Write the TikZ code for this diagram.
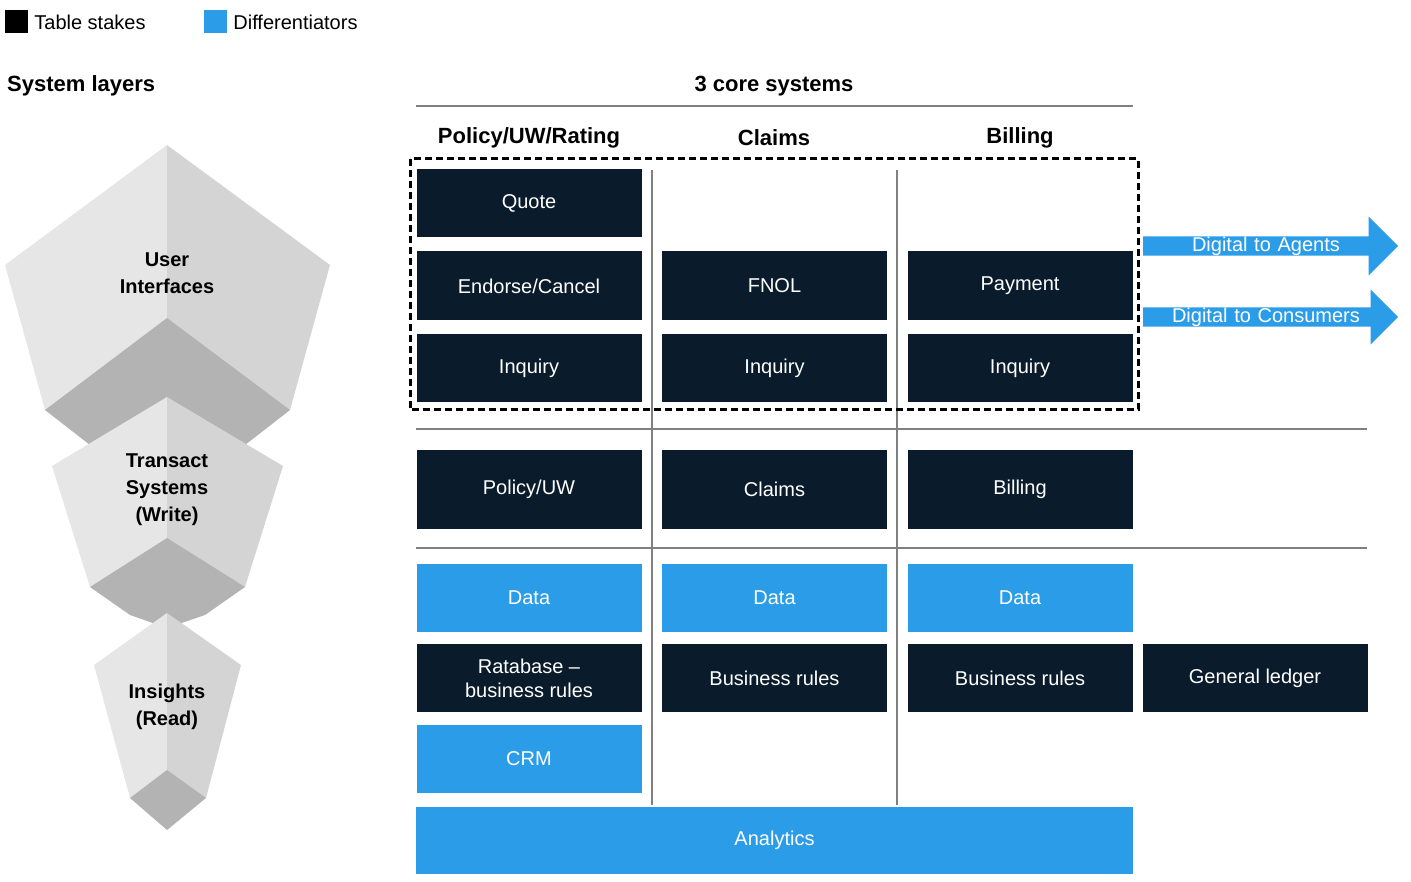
\documentclass[tikz,border=0pt]{standalone}
\usepackage{fontspec}
\setmainfont{Liberation Sans}
\usetikzlibrary{positioning,shapes.arrows}
\definecolor{navy}{HTML}{0A1C2C}
\definecolor{skyb}{HTML}{2B9DE8}
\definecolor{lgrey}{HTML}{E6E6E6}
\definecolor{mgrey}{HTML}{D4D4D4}
\definecolor{dgrey}{HTML}{B3B3B3}

\begin{document}
\begin{tikzpicture}[x=1pt,y=-1pt]
\tikzstyle{stake}=[rectangle, fill=navy, text=white, minimum width=225pt, minimum height=68pt, inner sep=0pt, align=center, font=\fontsize{20}{24}\selectfont]
\tikzstyle{diff}=[stake, fill=skyb]
\tikzstyle{head}=[font=\bfseries\fontsize{22}{26}\selectfont, inner sep=0pt]
\tikzstyle{layer}=[font=\bfseries\fontsize{20}{27}\selectfont, align=center, inner sep=0pt]
\tikzstyle{rule}=[draw=gray, line width=1.2pt]
\tikzstyle{digital}=[fill=skyb, text=white, font=\fontsize{20}{24}\selectfont]
\useasboundingbox (0,0) rectangle (1411,882);
	% legend
	\node[fill=black, minimum size=23pt, inner sep=0pt] (ts) at (16.5,22) {};
	\node[right=6pt of ts, font=\fontsize{20}{24}\selectfont, inner sep=0pt] {Table stakes};
	\node[fill=skyb, minimum size=23pt, inner sep=0pt] (df) at (215.5,22) {};
	\node[right=6pt of df, font=\fontsize{20}{24}\selectfont, inner sep=0pt] {Differentiators};
	% layers
	\node[head, anchor=west] (sl) at (7,86) {System layers};
	\fill[lgrey] (167,145) -- (5,265) -- (45,410) -- (167,410) -- cycle;
	\fill[mgrey] (167,145) -- (330,265) -- (290,410) -- (167,410) -- cycle;
	\fill[dgrey] (45,410) -- (167,318) -- (290,410) -- (245,445) -- (167,470) -- (90,445) -- cycle;
	\fill[lgrey] (167,397) -- (52,466) -- (90,587) -- (167,587) -- cycle;
	\fill[mgrey] (167,397) -- (283,466) -- (245,587) -- (167,587) -- cycle;
	\fill[dgrey] (90,587) -- (167,538) -- (245,587) -- (205,615) -- (167,628) -- (130,615) -- cycle;
	\fill[lgrey] (167,613) -- (94,665) -- (130,798) -- (167,798) -- cycle;
	\fill[mgrey] (167,613) -- (241,665) -- (206,798) -- (167,798) -- cycle;
	\fill[dgrey] (130,798) -- (167,770) -- (206,798) -- (167,830) -- cycle;
	\node[layer] (ui) at (167,273) {User\\Interfaces};
	\node[layer] (tr) at (167,490) {Transact\\Systems\\(Write)};
	\node[layer] (in) at (167,707) {Insights\\(Read)};
	% headers and rules
	\node[head] (core) at (774,86) {3 core systems};
	\draw[rule] (416,106) -- (1133,106);
	\node[head] (hp) at (529,138) {Policy/UW/Rating};
	\node[head] (hc) at (774,138) {Claims};
	\node[head] (hb) at (1020,138) {Billing};
	\draw[rule] (652,170) -- (652,805);
	\draw[rule] (897,170) -- (897,805);
	\draw[rule] (416,429) -- (1367,429);
	\draw[rule] (416,548) -- (1367,548);
	% boxes
	\node[stake] (quote) at (529,203) {Quote};
	\node[stake, minimum height=69pt] (endorse) at (529,286) {Endorse/Cancel};
	\node[stake, minimum height=69pt] (fnol) at (774.5,286) {FNOL};
	\node[stake, minimum height=69pt] (pay) at (1020,286) {Payment};
	\node[stake] (inq1) at (529,368) {Inquiry};
	\node[stake] (inq2) at (774.5,368) {Inquiry};
	\node[stake] (inq3) at (1020,368) {Inquiry};
	\node[stake, minimum height=79pt] (puw) at (529,489) {Policy/UW};
	\node[stake, minimum height=79pt] (clm) at (774.5,489) {Claims};
	\node[stake, minimum height=79pt] (bil) at (1020,489) {Billing};
	\node[diff] (d1) at (529,598) {Data};
	\node[diff] (d2) at (774.5,598) {Data};
	\node[diff] (d3) at (1020,598) {Data};
	\node[stake] (rb) at (529,678) {Ratabase --\\business rules};
	\node[stake] (br2) at (774.5,678) {Business rules};
	\node[stake] (br3) at (1020,678) {Business rules};
	\node[stake] (gl) at (1255,678) {General ledger};
	\node[diff] (crm) at (529,759) {CRM};
	\node[diff, minimum width=717pt, minimum height=67pt] (ana) at (774.5,840) {Analytics};
	\draw[line width=3pt, dash pattern=on 7pt off 4pt] (410,159) rectangle (1138,410);
	% digital arrows
	\node[digital, single arrow, single arrow head extend=20pt, single arrow head indent=0pt, minimum height=255pt, minimum width=36pt, inner sep=0pt, text width=220pt, align=center, anchor=tail] (ag) at (1143,246) {Digital to Agents};
	\node[digital, single arrow, single arrow head extend=18pt, single arrow head indent=0pt, minimum height=255pt, minimum width=36pt, inner sep=0pt, text width=220pt, align=center, anchor=tail] (co) at (1143,317) {Digital to Consumers};
\end{tikzpicture}
\end{document}
